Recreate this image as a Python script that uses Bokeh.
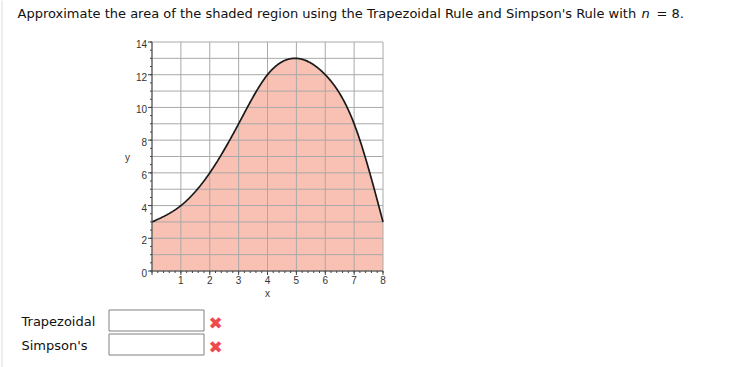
import numpy as np
from bokeh.plotting import figure
from bokeh.models import Range1d
from bokeh.core.properties import value
from bokeh.embed import file_html
from bokeh.resources import INLINE

# ---- data ----
xs_data = [0, 1, 2, 3, 4, 5, 6, 7, 8]
ys_data = [3, 4, 6, 9, 12, 13, 12, 9, 3]
x_ticks = [0, 1, 2, 3, 4, 5, 6, 7, 8]
x_tick_labels = ["", "1", "2", "3", "4", "5", "6", "7", "8"]
y_ticks = [0, 2, 4, 6, 8, 10, 12, 14]
y_tick_labels = ["0", "2", "4", "6", "8", "10", "12", "14"]
y_grid = list(range(0, 15))
x_minor = [i / 5 for i in range(0, 41)]
y_minor = [i / 2 for i in range(0, 29)]
title_text = "Approximate the area of the shaded region using the Trapezoidal Rule and Simpson's Rule with"
title_var = "n"
title_tail = "= 8."
row_labels = ["Trapezoidal", "Simpson's"]

# ---- natural cubic spline for a smooth drawing of the curve ----
def natural_spline(x, y, xx):
    x = np.asarray(x, float); y = np.asarray(y, float)
    n = len(x)
    h = np.diff(x)
    A = np.zeros((n, n)); b = np.zeros(n)
    A[0, 0] = 1; A[-1, -1] = 1
    for i in range(1, n - 1):
        A[i, i - 1] = h[i - 1]
        A[i, i] = 2 * (h[i - 1] + h[i])
        A[i, i + 1] = h[i]
        b[i] = 3 * ((y[i + 1] - y[i]) / h[i] - (y[i] - y[i - 1]) / h[i - 1])
    c = np.linalg.solve(A, b)
    out = np.empty_like(xx)
    for k, t in enumerate(xx):
        i = min(max(np.searchsorted(x, t) - 1, 0), n - 2)
        bi = (y[i + 1] - y[i]) / h[i] - h[i] * (2 * c[i] + c[i + 1]) / 3
        di = (c[i + 1] - c[i]) / (3 * h[i])
        d = t - x[i]
        out[k] = y[i] + bi * d + c[i] * d * d + di * d ** 3
    return out

xx = np.linspace(xs_data[0], xs_data[-1], 400)
yy = natural_spline(xs_data, ys_data, xx)

# ---- layout constants (pixels) ----
W, H = 745, 367
FL, FR, FT, FB = 151.5, 382.5, 41.5, 270.5
XMAX, YMAX = x_ticks[-1], y_ticks[-1]
sx = (FR - FL) / XMAX
sy = (FB - FT) / YMAX

def dx(px):
    return (px - FL) / sx

def dy(py):
    return (FB - py) / sy

p = figure(width=W, height=H, output_backend="svg", toolbar_location=None,
           x_range=Range1d(dx(0), dx(W)), y_range=Range1d(dy(H), dy(0)),
           min_border=0, x_axis_type=None, y_axis_type=None)
p.outline_line_color = None
p.xgrid.visible = False
p.ygrid.visible = False
p.background_fill_color = "white"
p.border_fill_color = "white"

# shaded region
p.varea(x=xx, y1=0, y2=yy, fill_color="#f9c1b3", fill_alpha=1.0)

# grid lines
GC = "#a9a9a9"
p.segment(x0=x_ticks, y0=[0] * len(x_ticks), x1=x_ticks, y1=[YMAX] * len(x_ticks),
          line_color=GC, line_width=1)
p.segment(x0=[0] * len(y_grid), y0=y_grid, x1=[XMAX] * len(y_grid), y1=y_grid,
          line_color=GC, line_width=1)

# curve
p.line(x=xx, y=yy, line_color="#1a1a1a", line_width=1.7)

# axes
AC = "#444444"
p.segment(x0=[0], y0=[0], x1=[0], y1=[YMAX], line_color=AC, line_width=1)
p.segment(x0=[0], y0=[0], x1=[XMAX], y1=[0], line_color=AC, line_width=1)
# y ticks (outside, to the left)
p.segment(x0=[0] * len(y_ticks), y0=y_ticks, x1=[-4 / sx] * len(y_ticks), y1=y_ticks,
          line_color=AC, line_width=1)
p.segment(x0=[0] * len(y_minor), y0=y_minor, x1=[-2 / sx] * len(y_minor), y1=y_minor,
          line_color=AC, line_width=1)
# x ticks (outside, below)
p.segment(x0=x_ticks, y0=[0] * len(x_ticks), x1=x_ticks, y1=[-4 / sy] * len(x_ticks),
          line_color=AC, line_width=1)
p.segment(x0=x_minor, y0=[0] * len(x_minor), x1=x_minor, y1=[-2 / sy] * len(x_minor),
          line_color=AC, line_width=1)

TKF = value("Liberation Sans")
p.text(x=[-5 / sx] * len(y_ticks), y=[t - 2 / sy for t in y_ticks], text=y_tick_labels,
       text_font=TKF, text_font_size="10px", text_align="right",
       text_baseline="middle", text_color="#333333")
p.text(x=x_ticks, y=[-8.5 / sy] * len(x_ticks), text=x_tick_labels, text_font=TKF,
       text_font_size="10px", text_align="center", text_baseline="middle",
       text_color="#333333")
# axis titles
p.text(x=[XMAX / 2], y=[dy(293)], text=["x"], text_font=TKF, text_font_size="10px",
       text_align="center", text_baseline="middle", text_color="#333333")
p.text(x=[dx(127)], y=[dy(157)], text=["y"], text_font=TKF, text_font_size="10px",
       text_align="center", text_baseline="middle", text_color="#333333")

# ---- surrounding text ----
TF = value("DejaVu Sans")
FS = "13px"
p.text(x=[dx(17)], y=[dy(13)], text=[title_text], text_font=TF,
       text_font_size=FS, text_baseline="middle", text_align="left",
       text_color="#111111")
p.text(x=[dx(641)], y=[dy(13)], text=[title_var], text_font=TF,
       text_font_size=FS, text_font_style="italic", text_baseline="middle",
       text_align="left", text_color="#111111")
p.text(x=[dx(656)], y=[dy(13)], text=[title_tail], text_font=TF,
       text_font_size=FS, text_baseline="middle", text_align="left",
       text_color="#111111")

row_y = [321, 345]
box_top = [309.5, 333.5]
box_bot = [330.5, 354.5]
p.text(x=[dx(21)] * 2, y=[dy(v) for v in row_y], text=row_labels, text_font=TF,
       text_font_size=FS, text_baseline="middle", text_align="left",
       text_color="#111111")
p.quad(left=[dx(108.5)] * 2, right=[dx(203.5)] * 2,
       top=[dy(v) for v in box_top], bottom=[dy(v) for v in box_bot],
       fill_color="white", line_color="#808080", line_width=1)
p.text(x=[dx(215)] * 2, y=[dy(v + 1) for v in row_y], text=["\u2716"] * 2,
       text_font=TF, text_font_size="17px", text_baseline="middle",
       text_align="center", text_color="#ef4b4e")

# left page border line
p.segment(x0=[dx(1.5)], y0=[dy(0)], x1=[dx(1.5)], y1=[dy(H)],
          line_color="#dddddd", line_width=1)

open("out.html", "w").write(file_html(p, INLINE))
